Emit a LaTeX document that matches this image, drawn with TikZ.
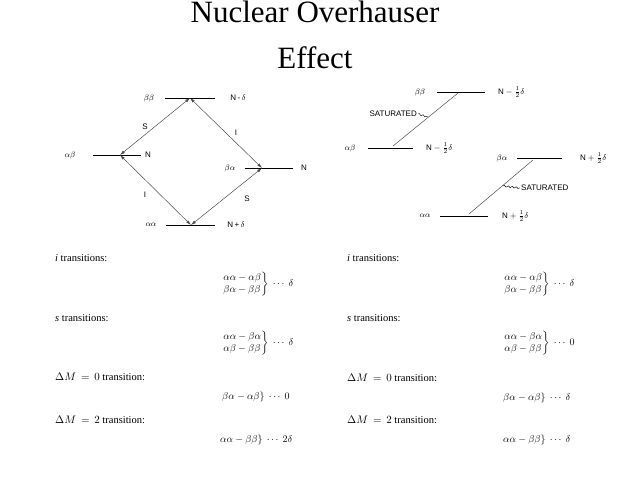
\documentclass[tikz,border=0pt]{standalone}
\usepackage{fontspec}
\setmainfont{Liberation Serif}
\setsansfont{Liberation Sans}
\usetikzlibrary{arrows.meta,decorations.pathmorphing}
\begin{document}
\begin{tikzpicture}[x=1pt,y=-1pt,
  lvl/.style={draw,line width=0.7pt},
  lab/.style={font=\sffamily\fontsize{8}{9}\selectfont,inner sep=1pt},
  tr/.style={draw=black!70,line width=0.5pt,{Latex[length=5pt,width=3pt]}-{Latex[length=5pt,width=3pt]}},
  txt/.style={font=\fontsize{10.5}{12}\selectfont,anchor=west,inner sep=0pt},
  eq/.style={font=\fontsize{10}{12}\selectfont,anchor=west,inner sep=0pt},
  sq/.style={draw,decorate,decoration={snake,amplitude=0.8pt,segment length=4pt}}]
\useasboundingbox (0,0) rectangle (638,479);
\node[font=\fontsize{31}{32}\selectfont] (t1) at (315,12) {Nuclear Overhauser};
\node[font=\fontsize{31}{32}\selectfont] (t2) at (315,58) {Effect};
% left diagram
\coordinate (bb) at (190,98); \coordinate (ab) at (120,155);
\coordinate (ba) at (262,168); \coordinate (aa) at (191,225);
\draw[lvl] (165,98) -- (215,98); \draw[lvl] (93,155) -- (141,155);
\draw[lvl] (245,168) -- (293,168); \draw[lvl] (166,225) -- (215,225);
\node[lab] (lbb) at (149,98) {$\beta\beta$}; \node[lab] (nbb) at (238,98) {N\,-\,$\delta$};
\node[lab] (lab1) at (70,155) {$\alpha\beta$}; \node[lab] (nab) at (148,155) {N};
\node[lab] (lba) at (230,168) {$\beta\alpha$}; \node[lab] (nba) at (304,168) {N};
\node[lab] (laa) at (151,225) {$\alpha\alpha$}; \node[lab] (naa) at (236,225) {N\,+\,$\delta$};
\draw[tr] (ab) -- (bb); \draw[tr] (bb) -- (ba); \draw[tr] (ab) -- (aa); \draw[tr] (aa) -- (ba);
\node[lab] (s1) at (145,127) {S}; \node[lab] (i1) at (236,133) {I};
\node[lab] (i2) at (145,195) {I}; \node[lab] (s2) at (247,199) {S};
% right diagram
\draw[lvl] (437,92) -- (485,92); \draw[lvl] (368,148) -- (413,148);
\draw[lvl] (517,158) -- (562,158); \draw[lvl] (440,216) -- (488,216);
\coordinate (d1a) at (393,146); \coordinate (d1b) at (458,93);
\coordinate (d2a) at (469,214); \coordinate (d2b) at (533,160);
\draw[black!70,line width=0.5pt] (d1a) -- (d1b); \draw[black!70,line width=0.5pt] (d2a) -- (d2b);
\node[lab] (rbb) at (420,92) {$\beta\beta$}; \node[lab,anchor=west] (rnbb) at (497,92) {$\mathsf{N}-\frac{1}{2}\delta$};
\node[lab] (rab) at (350,148) {$\alpha\beta$}; \node[lab,anchor=west] (rnab) at (425,148) {$\mathsf{N}-\frac{1}{2}\delta$};
\node[lab] (rba) at (502,158) {$\beta\alpha$}; \node[lab,anchor=west] (rnba) at (579,158) {$\mathsf{N}+\frac{1}{2}\delta$};
\node[lab] (raa) at (425,216) {$\alpha\alpha$}; \node[lab,anchor=west] (rnaa) at (501,216) {$\mathsf{N}+\frac{1}{2}\delta$};
\node[lab,anchor=east] (sat1) at (418,114) {SATURATED};
\coordinate (w1) at (428,117); \draw[sq] (sat1.east) -- (w1);
\node[lab,anchor=west] (sat2) at (520,188) {SATURATED};
\coordinate (w2) at (503,186); \draw[sq] (w2) -- (sat2.west);
% left text
\node[txt] (li) at (55,258) {\textit{i} transitions:};
\node[eq] (le1) at (222,284) {$\left.\begin{array}{@{}l@{}}\alpha\alpha-\alpha\beta\\ \beta\alpha-\beta\beta\end{array}\right\}\ \cdots\ \delta$};
\node[txt] (ls) at (55,318) {\textit{s} transitions:};
\node[eq] (le2) at (222,343) {$\left.\begin{array}{@{}l@{}}\alpha\alpha-\beta\alpha\\ \alpha\beta-\beta\beta\end{array}\right\}\ \cdots\ \delta$};
\node[txt] (l0) at (55,377) {$\Delta M\,=\,0$ transition:};
\node[eq] (le3) at (222,397) {$\beta\alpha-\alpha\beta\}\ \cdots\ 0$};
\node[txt] (l2) at (55,420) {$\Delta M\,=\,2$ transition:};
\node[eq] (le4) at (220,440) {$\alpha\alpha-\beta\beta\}\ \cdots\ 2\delta$};
% right text
\node[txt] (ri) at (347,258) {\textit{i} transitions:};
\node[eq] (re1) at (503,284) {$\left.\begin{array}{@{}l@{}}\alpha\alpha-\alpha\beta\\ \beta\alpha-\beta\beta\end{array}\right\}\ \cdots\ \delta$};
\node[txt] (rs) at (347,318) {\textit{s} transitions:};
\node[eq] (re2) at (503,343) {$\left.\begin{array}{@{}l@{}}\alpha\alpha-\beta\alpha\\ \alpha\beta-\beta\beta\end{array}\right\}\ \cdots\ 0$};
\node[txt] (r0) at (347,378) {$\Delta M\,=\,0$ transition:};
\node[eq] (re3) at (503,398) {$\beta\alpha-\alpha\beta\}\ \cdots\ \delta$};
\node[txt] (r2) at (347,420) {$\Delta M\,=\,2$ transition:};
\node[eq] (re4) at (503,440) {$\alpha\alpha-\beta\beta\}\ \cdots\ \delta$};
\end{tikzpicture}
\end{document}
